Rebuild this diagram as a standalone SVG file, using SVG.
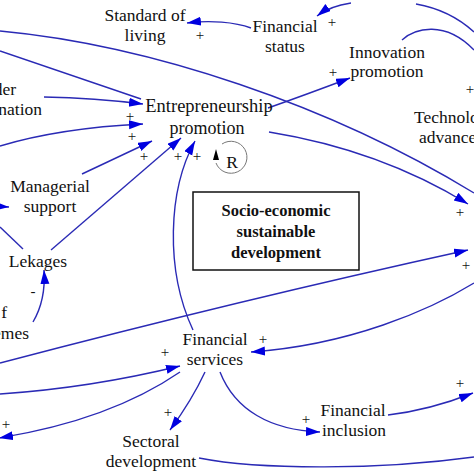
<svg xmlns="http://www.w3.org/2000/svg" width="474" height="474" viewBox="0 0 474 474">
<defs>
<style>
.t{font-family:"Liberation Serif","Times New Roman",serif;font-size:17.5px;fill:#111;text-anchor:middle}
.p{font-family:"Liberation Serif","Times New Roman",serif;font-size:15px;fill:#111;text-anchor:middle}
.b{font-family:"Liberation Serif","Times New Roman",serif;font-size:16.5px;font-weight:bold;fill:#111;text-anchor:middle}
.c{fill:none;stroke:#2a2ab5;stroke-width:1.4}
.ca{fill:none;stroke:#2a2ab5;stroke-width:1.4;marker-end:url(#a)}
</style>
<marker id="a" markerUnits="userSpaceOnUse" markerWidth="15" markerHeight="10" refX="14" refY="4.5" orient="auto">
<path d="M0,0 L14,4.5 L0,9 Z" fill="#0000e0"/>
</marker>
</defs>
<rect width="474" height="474" fill="#fff"/>

<g id="connectors">
<path class="ca" d="M251,28 C235,22 210,20 187,23"/>
<path class="ca" d="M351,3 Q330,6 317,16"/>
<path class="c" d="M416,4 Q450,10 474,32"/>
<path class="c" d="M402,40 C415,28 445,20 474,50"/>
<path class="ca" d="M268,108 Q305,95 350,78"/>
<path class="c" d="M0,31 C150,45 330,105 474,193"/>
<path class="c" d="M0,51 L141,99"/>
<path class="ca" d="M44,97 Q95,98 143,104"/>
<path class="ca" d="M0,146 Q60,128 143,124"/>
<path class="ca" d="M82,174 L152,141"/>
<path class="ca" d="M51,250 L181,138"/>
<path class="ca" d="M193,330 C165,270 168,190 195,141"/>
<path class="ca" d="M33,322 Q46,300 44,270"/>
<path class="c" d="M0,227 L23,249"/>
<path class="ca" d="M-8,206 L9,207"/>
<path class="ca" d="M269,132 Q380,150 468,204"/>
<path class="ca" d="M0,363 Q240,300 468,250"/>
<path class="ca" d="M0,394 Q90,388 180,366"/>
<path class="ca" d="M180,372 Q110,420 -1,438"/>
<path class="ca" d="M474,283 C430,310 350,345 251,352"/>
<path class="ca" d="M205,372 Q192,400 170,430"/>
<path class="ca" d="M220,372 C235,410 270,430 320,432"/>
<path class="ca" d="M388,415 Q430,410 473,393"/>
<path class="c" d="M199,458 C260,470 380,470 474,457"/>
</g>

<g id="loop-R">
<path d="M222,144 A16,16 0 1 1 216,163" fill="none" stroke="#777" stroke-width="1"/>
<path d="M216,149 L219,160 L213,160 Z" fill="#000"/>
<text class="t" x="232" y="168">R</text>
</g>

<g id="standard-of-living"><text class="t" x="145" y="21">Standard of</text><text class="t" x="145" y="41">living</text></g>
<g id="financial-status"><text class="t" x="285" y="32">Financial</text><text class="t" x="285" y="52">status</text></g>
<g id="innovation-promotion"><text class="t" x="387" y="58">Innovation</text><text class="t" x="387" y="77">promotion</text></g>
<g id="technological-advancement"><text class="t" x="414" y="123" style="text-anchor:start">Technolo</text><text class="t" x="419" y="143" style="text-anchor:start">advance</text></g>
<g id="entrepreneurship-promotion"><text class="t" x="209" y="112" style="font-size:18.5px">Entrepreneurship</text><text class="t" x="207" y="134" style="font-size:18px">promotion</text></g>
<g id="coordination"><text class="t" x="16" y="95" style="text-anchor:end">der</text><text class="t" x="42" y="115" style="text-anchor:end">nation</text></g>
<g id="managerial-support"><text class="t" x="50" y="192">Managerial</text><text class="t" x="50" y="212">support</text></g>
<g id="lekages"><text class="t" x="38" y="267">Lekages</text></g>
<g id="schemes"><text class="t" x="7" y="318" style="text-anchor:end">f</text><text class="t" x="29" y="339" style="text-anchor:end">emes</text></g>
<g id="financial-services"><text class="t" x="215" y="345">Financial</text><text class="t" x="215" y="365">services</text></g>
<g id="sectoral-development"><text class="t" x="151" y="447">Sectoral</text><text class="t" x="151" y="467">development</text></g>
<g id="financial-inclusion"><text class="t" x="353" y="416">Financial</text><text class="t" x="354" y="436">inclusion</text></g>
<g id="socio-economic">
<rect x="193" y="192" width="166" height="78" fill="#fff" stroke="#111" stroke-width="1.5"/>
<text class="b" x="276" y="216">Socio-economic</text>
<text class="b" x="276" y="237">sustainable</text>
<text class="b" x="276" y="258">development</text>
</g>

<g id="polarities">
<text class="p" x="200" y="40">+</text>
<text class="p" x="332" y="27">+</text>
<text class="p" x="333" y="77">+</text>
<text class="p" x="470" y="94">+</text>
<text class="p" x="130" y="121">+</text>
<text class="p" x="132" y="141">+</text>
<text class="p" x="144" y="161">+</text>
<text class="p" x="178" y="161">+</text>
<text class="p" x="197" y="161">+</text>
<text class="p" x="460" y="217">+</text>
<text class="p" x="466" y="270">+</text>
<text class="p" x="33" y="296">-</text>
<text class="p" x="165" y="357">+</text>
<text class="p" x="263" y="344">+</text>
<text class="p" x="6" y="429">+</text>
<text class="p" x="168" y="417">+</text>
<text class="p" x="306" y="424">+</text>
<text class="p" x="460" y="388">+</text>
</g>
</svg>
